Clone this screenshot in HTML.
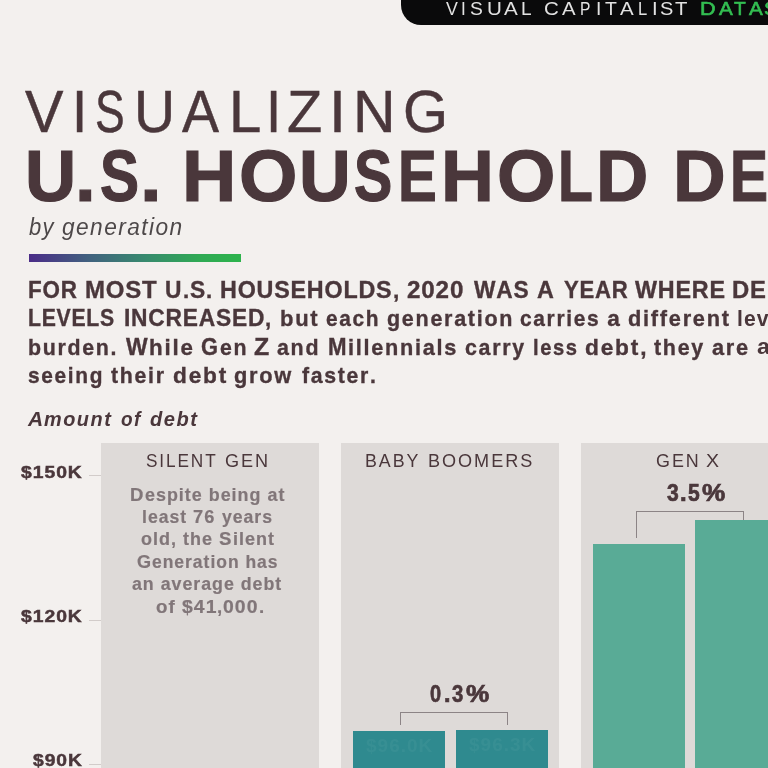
<!DOCTYPE html>
<html><head><meta charset="utf-8"><style>
html,body{margin:0;padding:0;}
body{width:768px;height:768px;overflow:hidden;position:relative;background:#f3f0ee;font-family:"Liberation Sans",sans-serif;}
.g{position:absolute;white-space:pre;line-height:1;font-kerning:none;transform-origin:0 0;}
#wrap{position:absolute;left:0;top:0;width:768px;height:768px;overflow:hidden;will-change:transform;}
</style></head><body><div id="wrap">
<div style="position:absolute;left:401px;top:-30px;width:420px;height:55px;background:#0a0a0b;border-radius:20px;"></div>
<span class="g" style="left:445.82px;top:0.00px;font-size:18.20px;font-weight:400;font-style:normal;color:#e2e2e2;letter-spacing:0.0px;transform:scaleX(0.9767);">V</span>
<span class="g" style="left:460.52px;top:0.00px;font-size:18.20px;font-weight:400;font-style:normal;color:#e2e2e2;letter-spacing:0.0px;transform:scaleX(0.9426);">I</span>
<span class="g" style="left:469.72px;top:0.00px;font-size:18.20px;font-weight:400;font-style:normal;color:#e2e2e2;letter-spacing:0.0px;transform:scaleX(1.0594);">S</span>
<span class="g" style="left:486.61px;top:0.00px;font-size:18.20px;font-weight:400;font-style:normal;color:#e2e2e2;letter-spacing:0.0px;transform:scaleX(1.1320);">U</span>
<span class="g" style="left:503.76px;top:0.00px;font-size:18.20px;font-weight:400;font-style:normal;color:#e2e2e2;letter-spacing:0.0px;transform:scaleX(1.1352);">A</span>
<span class="g" style="left:521.14px;top:0.00px;font-size:18.20px;font-weight:400;font-style:normal;color:#e2e2e2;letter-spacing:0.0px;transform:scaleX(1.0468);">L</span>
<span class="g" style="left:543.66px;top:0.00px;font-size:18.20px;font-weight:400;font-style:normal;color:#e2e2e2;letter-spacing:0.0px;transform:scaleX(1.1279);">C</span>
<span class="g" style="left:562.36px;top:0.00px;font-size:18.20px;font-weight:400;font-style:normal;color:#e2e2e2;letter-spacing:0.0px;transform:scaleX(1.1186);">A</span>
<span class="g" style="left:580.42px;top:0.00px;font-size:18.20px;font-weight:400;font-style:normal;color:#e2e2e2;letter-spacing:0.0px;transform:scaleX(0.8569);">P</span>
<span class="g" style="left:596.02px;top:0.00px;font-size:18.20px;font-weight:400;font-style:normal;color:#e2e2e2;letter-spacing:0.0px;transform:scaleX(1.0605);">I</span>
<span class="g" style="left:605.16px;top:0.00px;font-size:18.20px;font-weight:400;font-style:normal;color:#e2e2e2;letter-spacing:0.0px;transform:scaleX(1.0689);">T</span>
<span class="g" style="left:620.16px;top:0.00px;font-size:18.20px;font-weight:400;font-style:normal;color:#e2e2e2;letter-spacing:0.0px;transform:scaleX(1.1269);">A</span>
<span class="g" style="left:637.64px;top:0.00px;font-size:18.20px;font-weight:400;font-style:normal;color:#e2e2e2;letter-spacing:0.0px;transform:scaleX(0.9097);">L</span>
<span class="g" style="left:651.62px;top:0.00px;font-size:18.20px;font-weight:400;font-style:normal;color:#e2e2e2;letter-spacing:0.0px;transform:scaleX(1.1194);">I</span>
<span class="g" style="left:659.89px;top:0.00px;font-size:18.20px;font-weight:400;font-style:normal;color:#e2e2e2;letter-spacing:0.0px;transform:scaleX(1.0976);">S</span>
<span class="g" style="left:675.44px;top:0.00px;font-size:18.20px;font-weight:400;font-style:normal;color:#e2e2e2;letter-spacing:0.0px;transform:scaleX(1.1175);">T</span>
<span class="g" style="left:700.33px;top:0.00px;font-size:18.20px;font-weight:400;font-style:normal;color:#33bf52;letter-spacing:0.0px;transform:scaleX(1.1874);-webkit-text-stroke:0.6px #33bf52;">D</span>
<span class="g" style="left:719.36px;top:0.00px;font-size:18.20px;font-weight:400;font-style:normal;color:#33bf52;letter-spacing:0.0px;transform:scaleX(1.1352);-webkit-text-stroke:0.6px #33bf52;">A</span>
<span class="g" style="left:734.07px;top:0.00px;font-size:18.20px;font-weight:400;font-style:normal;color:#33bf52;letter-spacing:0.0px;transform:scaleX(1.0592);-webkit-text-stroke:0.6px #33bf52;">T</span>
<span class="g" style="left:748.56px;top:0.00px;font-size:18.20px;font-weight:400;font-style:normal;color:#33bf52;letter-spacing:0.0px;transform:scaleX(1.1352);-webkit-text-stroke:0.6px #33bf52;">A</span>
<span class="g" style="left:764.05px;top:0.00px;font-size:18.20px;font-weight:400;font-style:normal;color:#33bf52;letter-spacing:0.0px;transform:scaleX(1.1453);-webkit-text-stroke:0.6px #33bf52;">S</span>
<span class="g" style="left:24.60px;top:82.00px;font-size:60.00px;font-weight:400;font-style:normal;color:#4a373b;letter-spacing:0.0px;transform:scaleX(0.9597);-webkit-text-stroke:0.5px #4a373b;">V</span>
<span class="g" style="left:71.80px;top:82.00px;font-size:60.00px;font-weight:400;font-style:normal;color:#4a373b;letter-spacing:0.0px;transform:scaleX(0.9114);-webkit-text-stroke:0.5px #4a373b;">I</span>
<span class="g" style="left:95.13px;top:82.00px;font-size:60.00px;font-weight:400;font-style:normal;color:#4a373b;letter-spacing:0.0px;transform:scaleX(0.7411);-webkit-text-stroke:0.5px #4a373b;">S</span>
<span class="g" style="left:133.66px;top:82.00px;font-size:60.00px;font-weight:400;font-style:normal;color:#4a373b;letter-spacing:0.0px;transform:scaleX(0.9480);-webkit-text-stroke:0.5px #4a373b;">U</span>
<span class="g" style="left:182.14px;top:82.00px;font-size:60.00px;font-weight:400;font-style:normal;color:#4a373b;letter-spacing:0.0px;transform:scaleX(0.9250);-webkit-text-stroke:0.5px #4a373b;">A</span>
<span class="g" style="left:229.09px;top:82.00px;font-size:60.00px;font-weight:400;font-style:normal;color:#4a373b;letter-spacing:0.0px;transform:scaleX(0.9677);-webkit-text-stroke:0.5px #4a373b;">L</span>
<span class="g" style="left:265.60px;top:82.00px;font-size:60.00px;font-weight:400;font-style:normal;color:#4a373b;letter-spacing:0.0px;transform:scaleX(0.9114);-webkit-text-stroke:0.5px #4a373b;">I</span>
<span class="g" style="left:286.92px;top:82.00px;font-size:60.00px;font-weight:400;font-style:normal;color:#4a373b;letter-spacing:0.0px;transform:scaleX(0.9613);-webkit-text-stroke:0.5px #4a373b;">Z</span>
<span class="g" style="left:328.81px;top:82.00px;font-size:60.00px;font-weight:400;font-style:normal;color:#4a373b;letter-spacing:0.0px;transform:scaleX(1.0186);-webkit-text-stroke:0.5px #4a373b;">I</span>
<span class="g" style="left:353.12px;top:82.00px;font-size:60.00px;font-weight:400;font-style:normal;color:#4a373b;letter-spacing:0.0px;transform:scaleX(0.9816);-webkit-text-stroke:0.5px #4a373b;">N</span>
<span class="g" style="left:403.34px;top:82.00px;font-size:60.00px;font-weight:400;font-style:normal;color:#4a373b;letter-spacing:0.0px;transform:scaleX(0.9650);-webkit-text-stroke:0.5px #4a373b;">G</span>
<span class="g" style="left:24.54px;top:140.00px;font-size:72.20px;font-weight:700;font-style:normal;color:#4a373b;letter-spacing:0.0px;transform:scaleX(0.9816);-webkit-text-stroke:1.2px #4a373b;">U</span>
<span class="g" style="left:75.35px;top:140.00px;font-size:72.20px;font-weight:700;font-style:normal;color:#4a373b;letter-spacing:0.0px;transform:scaleX(1.0306);-webkit-text-stroke:1.2px #4a373b;">.</span>
<span class="g" style="left:99.81px;top:140.00px;font-size:72.20px;font-weight:700;font-style:normal;color:#4a373b;letter-spacing:0.0px;transform:scaleX(0.8114);-webkit-text-stroke:1.2px #4a373b;">S</span>
<span class="g" style="left:139.51px;top:140.00px;font-size:72.20px;font-weight:700;font-style:normal;color:#4a373b;letter-spacing:0.0px;transform:scaleX(1.0797);-webkit-text-stroke:1.2px #4a373b;">.</span>
<span class="g" style="left:182.27px;top:140.00px;font-size:72.20px;font-weight:700;font-style:normal;color:#4a373b;letter-spacing:0.0px;transform:scaleX(1.0413);-webkit-text-stroke:1.2px #4a373b;">H</span>
<span class="g" style="left:238.72px;top:140.00px;font-size:72.20px;font-weight:700;font-style:normal;color:#4a373b;letter-spacing:0.0px;transform:scaleX(1.0405);-webkit-text-stroke:1.2px #4a373b;">O</span>
<span class="g" style="left:298.69px;top:140.00px;font-size:72.20px;font-weight:700;font-style:normal;color:#4a373b;letter-spacing:0.0px;transform:scaleX(0.9931);-webkit-text-stroke:1.2px #4a373b;">U</span>
<span class="g" style="left:354.45px;top:140.00px;font-size:72.20px;font-weight:700;font-style:normal;color:#4a373b;letter-spacing:0.0px;transform:scaleX(0.7953);-webkit-text-stroke:1.2px #4a373b;">S</span>
<span class="g" style="left:397.51px;top:140.00px;font-size:72.20px;font-weight:700;font-style:normal;color:#4a373b;letter-spacing:0.0px;transform:scaleX(0.8048);-webkit-text-stroke:1.2px #4a373b;">E</span>
<span class="g" style="left:440.70px;top:140.00px;font-size:72.20px;font-weight:700;font-style:normal;color:#4a373b;letter-spacing:0.0px;transform:scaleX(1.0154);-webkit-text-stroke:1.2px #4a373b;">H</span>
<span class="g" style="left:496.62px;top:140.00px;font-size:72.20px;font-weight:700;font-style:normal;color:#4a373b;letter-spacing:0.0px;transform:scaleX(1.0405);-webkit-text-stroke:1.2px #4a373b;">O</span>
<span class="g" style="left:558.38px;top:140.00px;font-size:72.20px;font-weight:700;font-style:normal;color:#4a373b;letter-spacing:0.0px;transform:scaleX(0.7908);-webkit-text-stroke:1.2px #4a373b;">L</span>
<span class="g" style="left:596.46px;top:140.00px;font-size:72.20px;font-weight:700;font-style:normal;color:#4a373b;letter-spacing:0.0px;transform:scaleX(1.0027);-webkit-text-stroke:1.2px #4a373b;">D</span>
<span class="g" style="left:673.12px;top:140.00px;font-size:72.20px;font-weight:700;font-style:normal;color:#4a373b;letter-spacing:0.0px;transform:scaleX(1.0095);-webkit-text-stroke:1.2px #4a373b;">D</span>
<span class="g" style="left:729.88px;top:140.00px;font-size:72.20px;font-weight:700;font-style:normal;color:#4a373b;letter-spacing:0.0px;transform:scaleX(0.7900);-webkit-text-stroke:1.2px #4a373b;">E</span>
<span class="g" style="left:28.79px;top:215.00px;font-size:24.20px;font-weight:400;font-style:italic;color:#4d4849;letter-spacing:1.5px;transform:scaleX(0.9093);">by</span>
<span class="g" style="left:61.86px;top:215.00px;font-size:24.20px;font-weight:400;font-style:italic;color:#4d4849;letter-spacing:1.5px;transform:scaleX(0.9398);">generation</span>
<div style="position:absolute;left:29px;top:254px;width:212px;height:8px;background:linear-gradient(90deg,#4b2c88 0%,#41617f 28%,#378a6e 55%,#2fa954 80%,#2db34c 100%);"></div>
<span class="g" style="left:27.57px;top:279.00px;font-size:23.20px;font-weight:700;font-style:normal;color:#4a373b;letter-spacing:0.8px;transform:scaleX(0.9672);-webkit-text-stroke:0.35px #4a373b;">FOR</span>
<span class="g" style="left:85.37px;top:279.00px;font-size:23.20px;font-weight:700;font-style:normal;color:#4a373b;letter-spacing:0.8px;transform:scaleX(1.0345);-webkit-text-stroke:0.35px #4a373b;">MOST</span>
<span class="g" style="left:165.41px;top:279.00px;font-size:23.20px;font-weight:700;font-style:normal;color:#4a373b;letter-spacing:0.8px;transform:scaleX(0.9822);-webkit-text-stroke:0.35px #4a373b;">U</span>
<span class="g" style="left:182.65px;top:280.00px;font-size:22.60px;font-weight:700;font-style:normal;color:#4a373b;letter-spacing:0.8px;transform:scaleX(0.9822);-webkit-text-stroke:0.35px #4a373b;">.</span>
<span class="g" style="left:189.60px;top:279.00px;font-size:23.20px;font-weight:700;font-style:normal;color:#4a373b;letter-spacing:0.8px;transform:scaleX(0.9822);-webkit-text-stroke:0.35px #4a373b;">S</span>
<span class="g" style="left:205.59px;top:280.00px;font-size:22.60px;font-weight:700;font-style:normal;color:#4a373b;letter-spacing:0.8px;transform:scaleX(0.9822);-webkit-text-stroke:0.35px #4a373b;">.</span>
<span class="g" style="left:220.02px;top:279.00px;font-size:23.20px;font-weight:700;font-style:normal;color:#4a373b;letter-spacing:0.8px;transform:scaleX(1.0048);-webkit-text-stroke:0.35px #4a373b;">HOUSEHOLDS</span>
<span class="g" style="left:392.54px;top:280.00px;font-size:22.60px;font-weight:700;font-style:normal;color:#4a373b;letter-spacing:0.8px;transform:scaleX(1.0048);-webkit-text-stroke:0.35px #4a373b;">,</span>
<span class="g" style="left:407.44px;top:279.00px;font-size:23.20px;font-weight:700;font-style:normal;color:#4a373b;letter-spacing:0.8px;transform:scaleX(1.0439);-webkit-text-stroke:0.35px #4a373b;">2020</span>
<span class="g" style="left:473.85px;top:279.00px;font-size:23.20px;font-weight:700;font-style:normal;color:#4a373b;letter-spacing:0.8px;transform:scaleX(0.9791);-webkit-text-stroke:0.35px #4a373b;">WAS</span>
<span class="g" style="left:537.09px;top:279.00px;font-size:23.20px;font-weight:700;font-style:normal;color:#4a373b;letter-spacing:0.8px;transform:scaleX(1.0055);-webkit-text-stroke:0.35px #4a373b;">A</span>
<span class="g" style="left:563.50px;top:279.00px;font-size:23.20px;font-weight:700;font-style:normal;color:#4a373b;letter-spacing:0.8px;transform:scaleX(0.9540);-webkit-text-stroke:0.35px #4a373b;">YEAR</span>
<span class="g" style="left:634.65px;top:279.00px;font-size:23.20px;font-weight:700;font-style:normal;color:#4a373b;letter-spacing:0.8px;transform:scaleX(1.0059);-webkit-text-stroke:0.35px #4a373b;">WHERE</span>
<span class="g" style="left:732.28px;top:279.00px;font-size:23.20px;font-weight:700;font-style:normal;color:#4a373b;letter-spacing:0.8px;transform:scaleX(1.0288);-webkit-text-stroke:0.35px #4a373b;">DE</span>
<span class="g" style="left:28.16px;top:307.00px;font-size:23.20px;font-weight:700;font-style:normal;color:#4a373b;letter-spacing:0.8px;transform:scaleX(0.9147);-webkit-text-stroke:0.35px #4a373b;">LEVELS</span>
<span class="g" style="left:124.15px;top:307.00px;font-size:23.20px;font-weight:700;font-style:normal;color:#4a373b;letter-spacing:0.8px;transform:scaleX(0.9816);-webkit-text-stroke:0.35px #4a373b;">INCREASED</span>
<span class="g" style="left:265.35px;top:308.00px;font-size:22.60px;font-weight:700;font-style:normal;color:#4a373b;letter-spacing:0.8px;transform:scaleX(0.9816);-webkit-text-stroke:0.35px #4a373b;">,</span>
<span class="g" style="left:279.53px;top:308.00px;font-size:22.60px;font-weight:700;font-style:normal;color:#4a373b;letter-spacing:1.8px;transform:scaleX(0.9724);-webkit-text-stroke:0.35px #4a373b;">but</span>
<span class="g" style="left:325.96px;top:308.00px;font-size:22.60px;font-weight:700;font-style:normal;color:#4a373b;letter-spacing:1.8px;transform:scaleX(0.9235);-webkit-text-stroke:0.35px #4a373b;">each</span>
<span class="g" style="left:387.29px;top:308.00px;font-size:22.60px;font-weight:700;font-style:normal;color:#4a373b;letter-spacing:1.8px;transform:scaleX(0.9525);-webkit-text-stroke:0.35px #4a373b;">generation</span>
<span class="g" style="left:520.36px;top:308.00px;font-size:22.60px;font-weight:700;font-style:normal;color:#4a373b;letter-spacing:1.8px;transform:scaleX(0.9256);-webkit-text-stroke:0.35px #4a373b;">carries</span>
<span class="g" style="left:607.21px;top:308.00px;font-size:22.60px;font-weight:700;font-style:normal;color:#4a373b;letter-spacing:1.8px;transform:scaleX(1.0000);-webkit-text-stroke:0.35px #4a373b;">a</span>
<span class="g" style="left:627.98px;top:308.00px;font-size:22.60px;font-weight:700;font-style:normal;color:#4a373b;letter-spacing:1.8px;transform:scaleX(0.9638);-webkit-text-stroke:0.35px #4a373b;">different</span>
<span class="g" style="left:27.67px;top:337.00px;font-size:22.60px;font-weight:700;font-style:normal;color:#4a373b;letter-spacing:1.8px;transform:scaleX(0.9452);-webkit-text-stroke:0.35px #4a373b;">burden.</span>
<span class="g" style="left:125.65px;top:336.00px;font-size:23.20px;font-weight:700;font-style:normal;color:#4a373b;letter-spacing:1.8px;transform:scaleX(0.9883);-webkit-text-stroke:0.35px #4a373b;">W</span>
<span class="g" style="left:149.07px;top:337.00px;font-size:22.60px;font-weight:700;font-style:normal;color:#4a373b;letter-spacing:1.8px;transform:scaleX(0.9883);-webkit-text-stroke:0.35px #4a373b;">hile</span>
<span class="g" style="left:200.98px;top:336.00px;font-size:23.20px;font-weight:700;font-style:normal;color:#4a373b;letter-spacing:1.8px;transform:scaleX(0.9427);-webkit-text-stroke:0.35px #4a373b;">G</span>
<span class="g" style="left:219.69px;top:337.00px;font-size:22.60px;font-weight:700;font-style:normal;color:#4a373b;letter-spacing:1.8px;transform:scaleX(0.9427);-webkit-text-stroke:0.35px #4a373b;">en</span>
<span class="g" style="left:253.83px;top:336.00px;font-size:23.20px;font-weight:700;font-style:normal;color:#4a373b;letter-spacing:0.8px;transform:scaleX(1.0732);-webkit-text-stroke:0.35px #4a373b;">Z</span>
<span class="g" style="left:277.45px;top:337.00px;font-size:22.60px;font-weight:700;font-style:normal;color:#4a373b;letter-spacing:1.8px;transform:scaleX(0.9477);-webkit-text-stroke:0.35px #4a373b;">and</span>
<span class="g" style="left:327.59px;top:336.00px;font-size:23.20px;font-weight:700;font-style:normal;color:#4a373b;letter-spacing:1.8px;transform:scaleX(0.9596);-webkit-text-stroke:0.35px #4a373b;">M</span>
<span class="g" style="left:347.86px;top:337.00px;font-size:22.60px;font-weight:700;font-style:normal;color:#4a373b;letter-spacing:1.8px;transform:scaleX(0.9596);-webkit-text-stroke:0.35px #4a373b;">illennials</span>
<span class="g" style="left:464.54px;top:337.00px;font-size:22.60px;font-weight:700;font-style:normal;color:#4a373b;letter-spacing:1.8px;transform:scaleX(0.9456);-webkit-text-stroke:0.35px #4a373b;">carry</span>
<span class="g" style="left:532.57px;top:337.00px;font-size:22.60px;font-weight:700;font-style:normal;color:#4a373b;letter-spacing:1.8px;transform:scaleX(0.8927);-webkit-text-stroke:0.35px #4a373b;">less</span>
<span class="g" style="left:584.64px;top:337.00px;font-size:22.60px;font-weight:700;font-style:normal;color:#4a373b;letter-spacing:1.8px;transform:scaleX(1.0052);-webkit-text-stroke:0.35px #4a373b;">debt,</span>
<span class="g" style="left:653.51px;top:337.00px;font-size:22.60px;font-weight:700;font-style:normal;color:#4a373b;letter-spacing:1.8px;transform:scaleX(0.9491);-webkit-text-stroke:0.35px #4a373b;">they</span>
<span class="g" style="left:712.34px;top:337.00px;font-size:22.60px;font-weight:700;font-style:normal;color:#4a373b;letter-spacing:1.8px;transform:scaleX(0.9626);-webkit-text-stroke:0.35px #4a373b;">are</span>
<span class="g" style="left:27.64px;top:365.00px;font-size:22.60px;font-weight:700;font-style:normal;color:#4a373b;letter-spacing:1.8px;transform:scaleX(0.9241);-webkit-text-stroke:0.35px #4a373b;">seeing</span>
<span class="g" style="left:111.32px;top:365.00px;font-size:22.60px;font-weight:700;font-style:normal;color:#4a373b;letter-spacing:1.8px;transform:scaleX(0.9423);-webkit-text-stroke:0.35px #4a373b;">their</span>
<span class="g" style="left:172.75px;top:365.00px;font-size:22.60px;font-weight:700;font-style:normal;color:#4a373b;letter-spacing:1.8px;transform:scaleX(1.0028);-webkit-text-stroke:0.35px #4a373b;">debt</span>
<span class="g" style="left:234.28px;top:365.00px;font-size:22.60px;font-weight:700;font-style:normal;color:#4a373b;letter-spacing:1.8px;transform:scaleX(0.9649);-webkit-text-stroke:0.35px #4a373b;">grow</span>
<span class="g" style="left:301.61px;top:365.00px;font-size:22.60px;font-weight:700;font-style:normal;color:#4a373b;letter-spacing:1.8px;transform:scaleX(0.9408);-webkit-text-stroke:0.35px #4a373b;">faster.</span>
<span class="g" style="left:737.03px;top:308.00px;font-size:22.60px;font-weight:700;font-style:normal;color:#4a373b;letter-spacing:1.2px;transform:scaleX(0.9334);">lev</span>
<span class="g" style="left:756.82px;top:336.00px;font-size:22.60px;font-weight:700;font-style:normal;color:#4a373b;letter-spacing:1.2px;transform:scaleX(1.0290);">a</span>
<span class="g" style="left:27.63px;top:409.00px;font-size:20.80px;font-weight:700;font-style:italic;color:#4a373b;letter-spacing:1.5px;transform:scaleX(1.0096);">A</span>
<span class="g" style="left:44.31px;top:410.00px;font-size:19.70px;font-weight:700;font-style:italic;color:#4a373b;letter-spacing:1.5px;transform:scaleX(1.0096);">mount</span>
<span class="g" style="left:120.92px;top:410.00px;font-size:19.70px;font-weight:700;font-style:italic;color:#4a373b;letter-spacing:1.5px;transform:scaleX(0.9653);">of</span>
<span class="g" style="left:149.83px;top:410.00px;font-size:19.70px;font-weight:700;font-style:italic;color:#4a373b;letter-spacing:1.5px;transform:scaleX(1.0195);">debt</span>
<span class="g" style="left:21.47px;top:465.00px;font-size:16.00px;font-weight:700;font-style:normal;color:#4a373b;letter-spacing:0.8px;transform:scaleX(1.2073);-webkit-text-stroke:0.45px #4a373b;">$150K</span>
<span class="g" style="left:21.47px;top:609.00px;font-size:16.00px;font-weight:700;font-style:normal;color:#4a373b;letter-spacing:0.8px;transform:scaleX(1.2073);-webkit-text-stroke:0.45px #4a373b;">$120K</span>
<span class="g" style="left:33.37px;top:753.00px;font-size:16.00px;font-weight:700;font-style:normal;color:#4a373b;letter-spacing:0.8px;transform:scaleX(1.2025);-webkit-text-stroke:0.45px #4a373b;">$90K</span>
<div style="position:absolute;left:89px;top:475.1px;width:12px;height:1px;background:#d2ccca;"></div>
<div style="position:absolute;left:89px;top:619.5px;width:12px;height:1px;background:#d2ccca;"></div>
<div style="position:absolute;left:89px;top:764.2px;width:12px;height:1px;background:#d2ccca;"></div>
<div style="position:absolute;left:101px;top:442.5px;width:218.3px;height:400px;background:#dedad8;"></div>
<div style="position:absolute;left:340.5px;top:442.5px;width:218.3px;height:400px;background:#dedad8;"></div>
<div style="position:absolute;left:580.5px;top:442.5px;width:218.3px;height:400px;background:#dedad8;"></div>
<span class="g" style="left:145.92px;top:452.00px;font-size:18.40px;font-weight:400;font-style:normal;color:#4a373b;letter-spacing:2px;transform:scaleX(0.9363);">SILENT</span>
<span class="g" style="left:225.19px;top:452.00px;font-size:18.40px;font-weight:400;font-style:normal;color:#4a373b;letter-spacing:2px;transform:scaleX(0.9844);">GEN</span>
<span class="g" style="left:365.14px;top:452.00px;font-size:18.40px;font-weight:400;font-style:normal;color:#4a373b;letter-spacing:2px;transform:scaleX(0.9685);">BABY</span>
<span class="g" style="left:427.62px;top:452.00px;font-size:18.40px;font-weight:400;font-style:normal;color:#4a373b;letter-spacing:2px;transform:scaleX(0.9836);">BOOMERS</span>
<span class="g" style="left:655.70px;top:452.00px;font-size:18.40px;font-weight:400;font-style:normal;color:#4a373b;letter-spacing:2px;transform:scaleX(0.9747);">GEN</span>
<span class="g" style="left:706.36px;top:452.00px;font-size:18.40px;font-weight:400;font-style:normal;color:#4a373b;letter-spacing:2px;transform:scaleX(1.0634);">X</span>
<span class="g" style="left:130.26px;top:486.00px;font-size:18.40px;font-weight:700;font-style:normal;color:#817679;letter-spacing:1.0px;transform:scaleX(1.0062);-webkit-text-stroke:0.2px #817679;">D</span>
<span class="g" style="left:144.64px;top:487.00px;font-size:17.80px;font-weight:700;font-style:normal;color:#817679;letter-spacing:1.0px;transform:scaleX(1.0062);-webkit-text-stroke:0.2px #817679;">espite being at</span>
<span class="g" style="left:142.27px;top:509.00px;font-size:17.80px;font-weight:700;font-style:normal;color:#817679;letter-spacing:1.0px;transform:scaleX(0.9916);-webkit-text-stroke:0.2px #817679;">least </span>
<span class="g" style="left:193.35px;top:508.00px;font-size:18.40px;font-weight:700;font-style:normal;color:#817679;letter-spacing:1.0px;transform:scaleX(0.9916);-webkit-text-stroke:0.2px #817679;">76</span>
<span class="g" style="left:215.63px;top:509.00px;font-size:17.80px;font-weight:700;font-style:normal;color:#817679;letter-spacing:1.0px;transform:scaleX(0.9916);-webkit-text-stroke:0.2px #817679;"> years</span>
<span class="g" style="left:141.00px;top:531.00px;font-size:17.80px;font-weight:700;font-style:normal;color:#817679;letter-spacing:1.0px;transform:scaleX(1.0117);-webkit-text-stroke:0.2px #817679;">old, the </span>
<span class="g" style="left:219.13px;top:530.00px;font-size:18.40px;font-weight:700;font-style:normal;color:#817679;letter-spacing:1.0px;transform:scaleX(1.0117);-webkit-text-stroke:0.2px #817679;">S</span>
<span class="g" style="left:232.55px;top:531.00px;font-size:17.80px;font-weight:700;font-style:normal;color:#817679;letter-spacing:1.0px;transform:scaleX(1.0117);-webkit-text-stroke:0.2px #817679;">ilent</span>
<span class="g" style="left:136.96px;top:553.00px;font-size:18.40px;font-weight:700;font-style:normal;color:#817679;letter-spacing:1.0px;transform:scaleX(0.9833);-webkit-text-stroke:0.2px #817679;">G</span>
<span class="g" style="left:152.01px;top:554.00px;font-size:17.80px;font-weight:700;font-style:normal;color:#817679;letter-spacing:1.0px;transform:scaleX(0.9833);-webkit-text-stroke:0.2px #817679;">eneration has</span>
<span class="g" style="left:132.48px;top:576.00px;font-size:17.80px;font-weight:700;font-style:normal;color:#817679;letter-spacing:1.0px;transform:scaleX(0.9987);-webkit-text-stroke:0.2px #817679;">an average debt</span>
<span class="g" style="left:155.67px;top:599.00px;font-size:17.80px;font-weight:700;font-style:normal;color:#817679;letter-spacing:1.0px;transform:scaleX(1.0533);-webkit-text-stroke:0.2px #817679;">of </span>
<span class="g" style="left:181.73px;top:598.00px;font-size:18.40px;font-weight:700;font-style:normal;color:#817679;letter-spacing:1.0px;transform:scaleX(1.0533);-webkit-text-stroke:0.2px #817679;">$41</span>
<span class="g" style="left:217.23px;top:599.00px;font-size:17.80px;font-weight:700;font-style:normal;color:#817679;letter-spacing:1.0px;transform:scaleX(1.0533);-webkit-text-stroke:0.2px #817679;">,</span>
<span class="g" style="left:223.49px;top:598.00px;font-size:18.40px;font-weight:700;font-style:normal;color:#817679;letter-spacing:1.0px;transform:scaleX(1.0533);-webkit-text-stroke:0.2px #817679;">000</span>
<span class="g" style="left:258.98px;top:599.00px;font-size:17.80px;font-weight:700;font-style:normal;color:#817679;letter-spacing:1.0px;transform:scaleX(1.0533);-webkit-text-stroke:0.2px #817679;">.</span>
<div style="position:absolute;left:352.9px;top:731.3px;width:92.3px;height:60px;background:#2f8a8f;"></div>
<div style="position:absolute;left:455.8px;top:729.9px;width:92px;height:60px;background:#2f8a8f;"></div>
<div style="position:absolute;left:400px;top:711.5px;width:108.3px;height:13.5px;border:1px solid #8c8486;border-bottom:none;box-sizing:border-box;"></div>
<span class="g" style="left:429.71px;top:682.00px;font-size:24.70px;font-weight:700;font-style:normal;color:#4a373b;letter-spacing:0.0px;transform:scaleX(0.8087);-webkit-text-stroke:0.7px #4a373b;">0</span>
<span class="g" style="left:443.61px;top:682.00px;font-size:24.70px;font-weight:700;font-style:normal;color:#4a373b;letter-spacing:0.0px;transform:scaleX(0.9468);-webkit-text-stroke:0.7px #4a373b;">.</span>
<span class="g" style="left:451.83px;top:682.00px;font-size:24.70px;font-weight:700;font-style:normal;color:#4a373b;letter-spacing:0.0px;transform:scaleX(0.8226);-webkit-text-stroke:0.7px #4a373b;">3</span>
<span class="g" style="left:466.25px;top:682.00px;font-size:24.70px;font-weight:700;font-style:normal;color:#4a373b;letter-spacing:0.0px;transform:scaleX(1.0582);-webkit-text-stroke:0.7px #4a373b;">%</span>
<span class="g" style="left:366px;top:736px;font-size:19px;font-weight:700;color:rgba(255,255,255,0.045);letter-spacing:1px;">$96.0K</span>
<span class="g" style="left:469px;top:735px;font-size:19px;font-weight:700;color:rgba(255,255,255,0.045);letter-spacing:1px;">$96.3K</span>
<div style="position:absolute;left:592.7px;top:543.8px;width:92.6px;height:300px;background:#59ab96;"></div>
<div style="position:absolute;left:695px;top:520.3px;width:92.6px;height:300px;background:#59ab96;"></div>
<div style="position:absolute;left:635.5px;top:511px;width:108.5px;height:27px;border-left:1px solid #8c8486;border-top:1px solid #8c8486;box-sizing:border-box;"></div>
<div style="position:absolute;left:743px;top:511px;width:1px;height:9.3px;background:#8c8486;"></div>
<span class="g" style="left:666.52px;top:481.00px;font-size:24.70px;font-weight:700;font-style:normal;color:#4a373b;letter-spacing:0.0px;transform:scaleX(0.8552);-webkit-text-stroke:0.7px #4a373b;">3</span>
<span class="g" style="left:679.96px;top:481.00px;font-size:24.70px;font-weight:700;font-style:normal;color:#4a373b;letter-spacing:0.0px;transform:scaleX(0.9755);-webkit-text-stroke:0.7px #4a373b;">.</span>
<span class="g" style="left:688.25px;top:481.00px;font-size:24.70px;font-weight:700;font-style:normal;color:#4a373b;letter-spacing:0.0px;transform:scaleX(0.8544);-webkit-text-stroke:0.7px #4a373b;">5</span>
<span class="g" style="left:702.35px;top:481.00px;font-size:24.70px;font-weight:700;font-style:normal;color:#4a373b;letter-spacing:0.0px;transform:scaleX(1.0582);-webkit-text-stroke:0.7px #4a373b;">%</span>
</div></body></html>
